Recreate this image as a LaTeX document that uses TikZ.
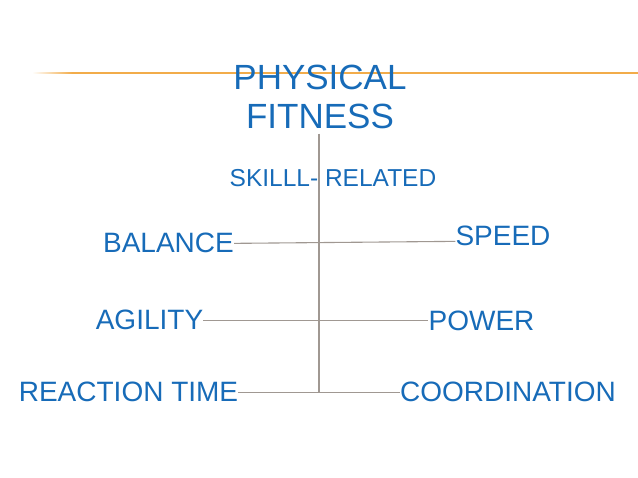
\documentclass[tikz,border=0pt]{standalone}
\usepackage{fontspec}
\setmainfont{Liberation Sans}
\usepackage{xcolor}
\usepackage{tikz}
\usetikzlibrary{calc}
\usetikzlibrary{positioning}
\definecolor{fitblue}{RGB}{23,107,184}
\definecolor{stem}{RGB}{160,152,146}
\definecolor{rule}{RGB}{242,172,74}
\tikzstyle{item} = [draw=none, inner sep = 0, text=fitblue, font=\fontsize{28}{32}\selectfont, anchor=base]
\tikzstyle{link} = [-, draw=stem, line width=1.1pt]

\begin{document}
\begin{tikzpicture}[x=1pt, y=-1pt]
\useasboundingbox (0,0) rectangle (638,478);
% top rule, fading in from the left
\shade [left color=white, right color=rule] (32,72.2) rectangle (72,73.8);
\draw [draw=rule, line width=1.6pt] (72,73) -- (638,73);
\node [item, align=center, font=\fontsize{35}{39}\selectfont] (phys) at (320,129) {PHYSICAL\\FITNESS};
\node [item, font=\fontsize{24.5}{28}\selectfont] (skill) at (333,187) {SKILLL- RELATED};
\node [item] (balance) at (168.5,253) {BALANCE};
\node [item] (speed) at (503,246) {SPEED};
\node [item] (agility) at (149.5,330) {AGILITY};
\node [item] (power) at (481.5,331) {POWER};
\node [item] (reaction) at (128.5,402) {REACTION TIME};
\node [item] (coord) at (508,402) {COORDINATION};
\coordinate (bot) at (319,393);
\draw [link] (phys.south -| bot) ++(0,4) -- (bot);
\draw [link] (balance.east) -- ([yshift=-5pt]speed.west);
\draw [link] (agility.east) -- (agility.east -| power.west);
\draw [link] (reaction.east) -- (reaction.east -| coord.west);
\end{tikzpicture}
\end{document}
